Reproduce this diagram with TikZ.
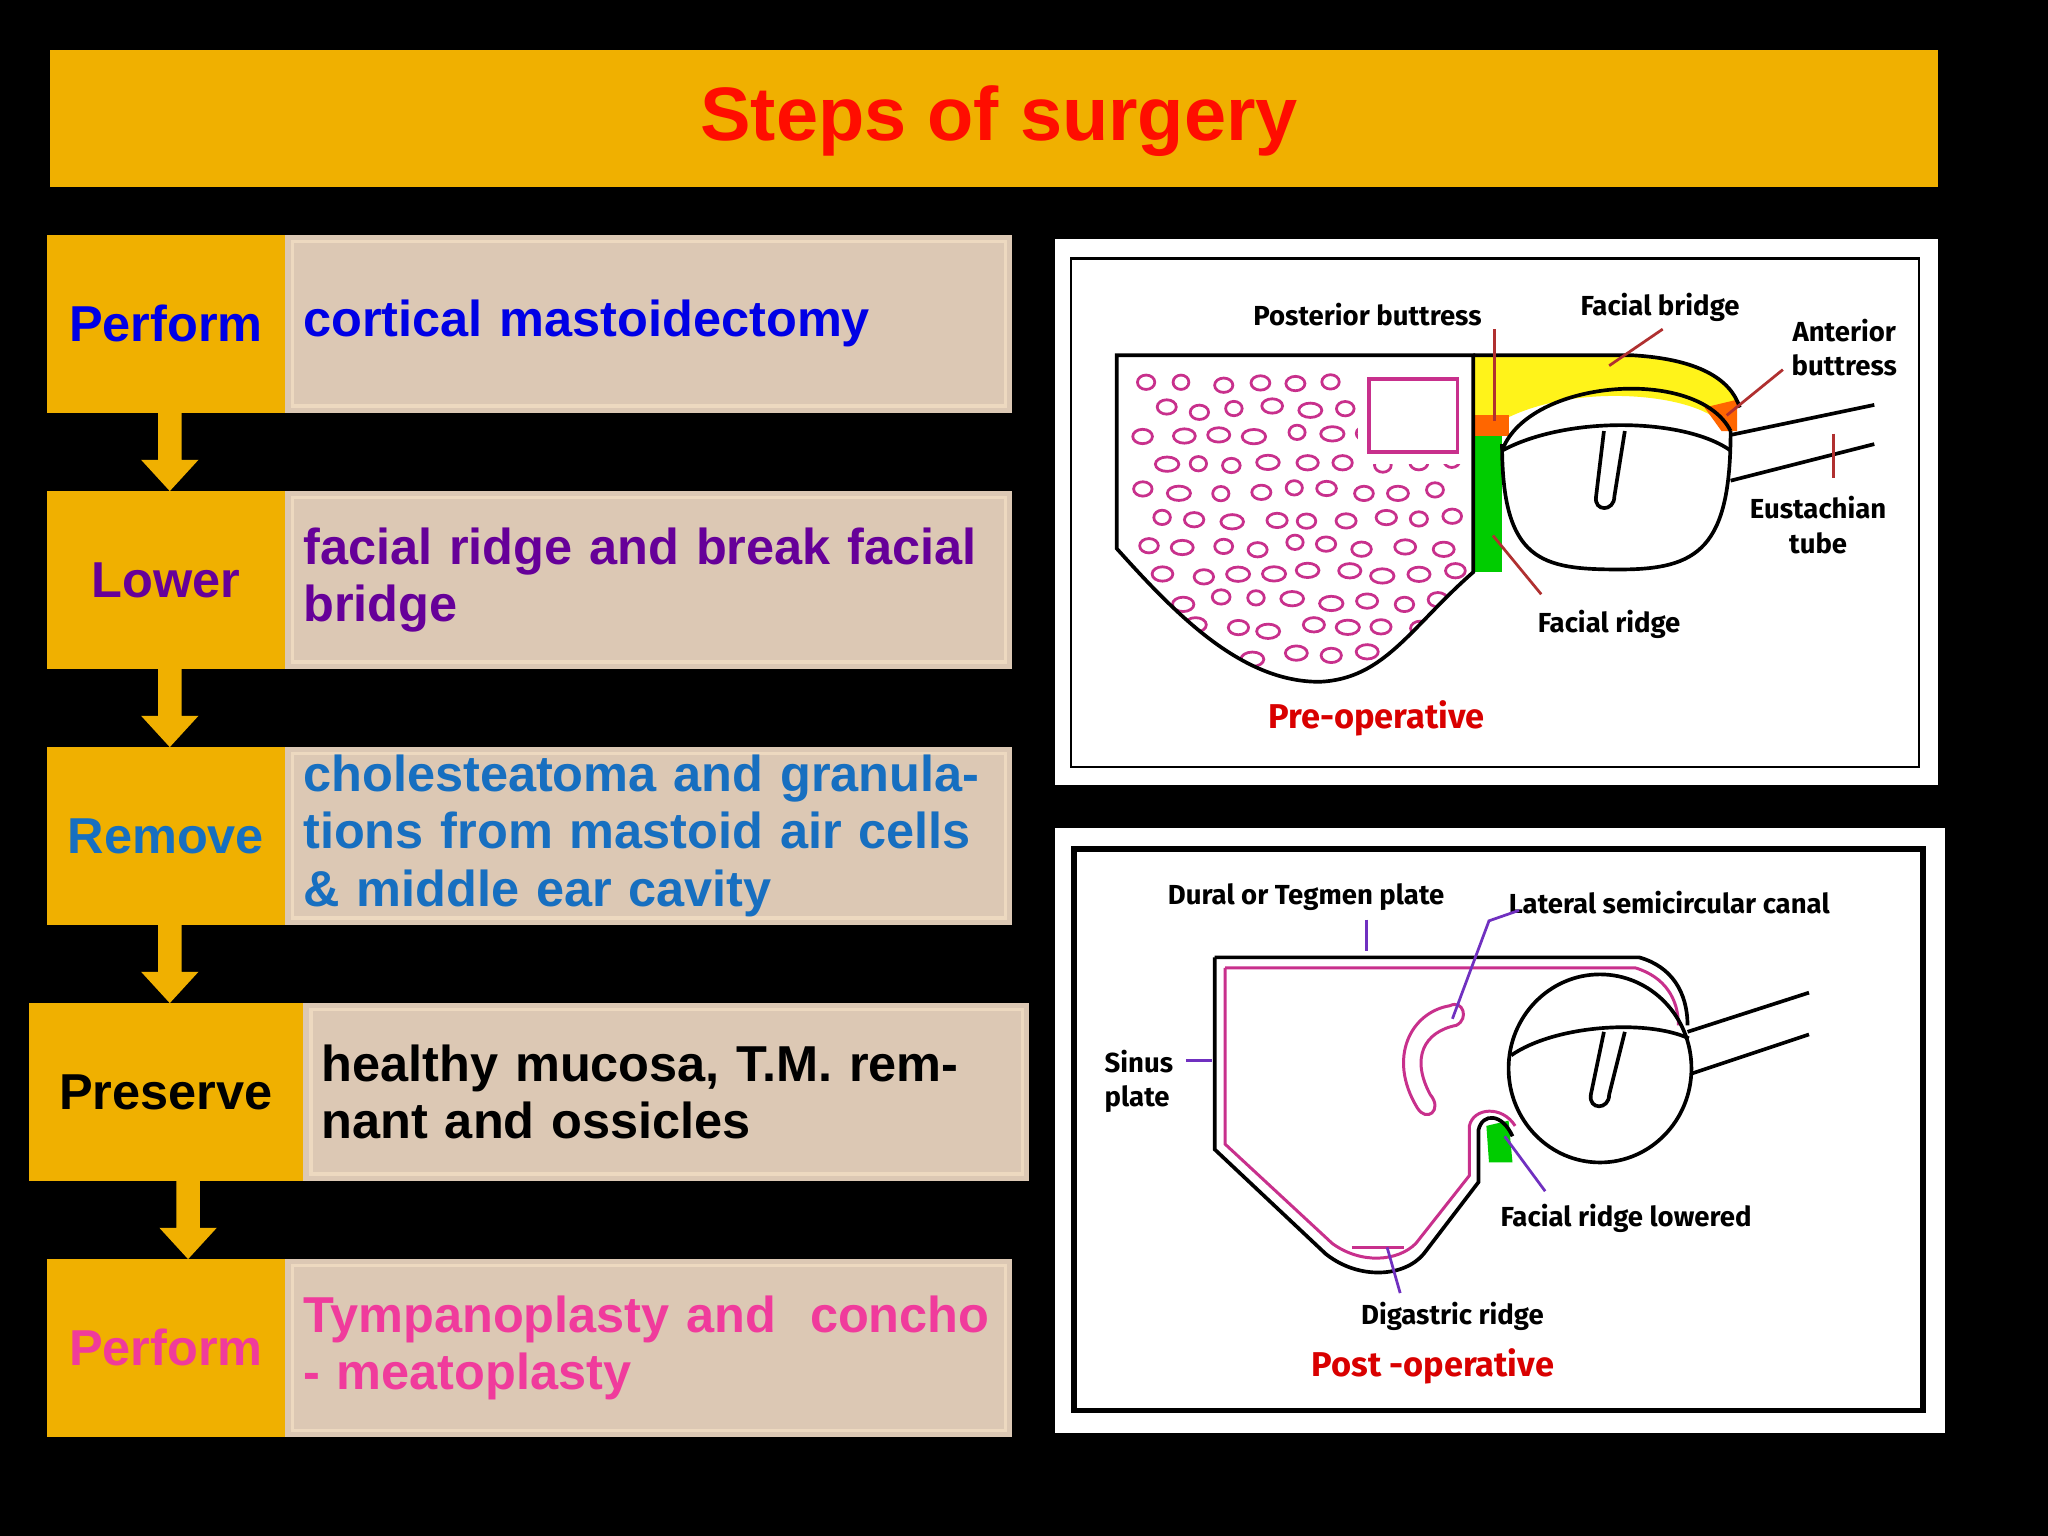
\documentclass[tikz,border=0pt]{standalone}
\usepackage{fontspec}
\setmainfont{Liberation Sans}
\newfontfamily\lbl{Fira Sans}
\definecolor{orangeA}{HTML}{F0B000}
\definecolor{beigeA}{HTML}{DCC8B4}
\definecolor{beigeB}{HTML}{EDD9C0}
\definecolor{pinkC}{HTML}{C8308C}
\definecolor{lead}{HTML}{B03030}
\definecolor{leadp}{HTML}{7030C0}
\begin{document}
\begin{tikzpicture}[x=0.02cm,y=-0.02cm,
 st/.style={font=\fontsize{22}{26}\selectfont\bfseries,anchor=center},
 tx/.style={font=\fontsize{22}{25}\selectfont\bfseries,anchor=west,align=left,text width=10.6cm},
 lab/.style={font=\lbl\fontsize{12}{15}\selectfont\bfseries,align=center,inner sep=1pt},
 cell/.style={draw=pinkC,line width=1.2pt},
 ol/.style={draw=black,line width=1.6pt},
 ld/.style={draw=lead,line width=1.2pt},
 lp/.style={draw=leadp,line width=1.2pt}]
\fill[black] (0,0) rectangle (1568,1176);
% title
\fill[orangeA] (38,38) rectangle (1484,143);
\node[font=\fontsize{33}{38}\selectfont\bfseries,text=red!90!orange] (title) at (765,93) {Steps of surgery};
% rows
\foreach \n/\y/\lab/\col/\txt/\xa/\xb/\xc in {
 a/180/Perform/{blue!90!black}/{cortical mastoidectomy}/36/218/775,
 b/376/Lower/{violet!80!blue}/{facial ridge and break facial bridge}/36/218/775,
 c/572/Remove/{cyan!50!blue}/{cholesteatoma and granulations from mastoid air cells \& middle ear cavity}/36/218/775,
 d/768/Preserve/black/{healthy mucosa, T.M. remnant and ossicles}/22/232/788,
 e/964/Perform/{magenta!70!pink}/{Tympanoplasty and\ \ concho - meatoplasty}/36/218/775}{
 \fill[orangeA] (\xa,\y) rectangle (\xb+14,\y+136);
 \fill[beigeA] (\xb,\y) rectangle (\xc,\y+136);
 \draw[beigeB,line width=1.5pt] (\xb+6,\y+5) rectangle (\xc-5,\y+131);
 \node[st,text=\col] (L\n) at ({(\xa+\xb)/2},\y+68) {\lab};
 \node[tx,text=\col] (T\n) at (\xb+8,\y+68) {\txt};
}
\foreach \y/\x in {316/130,512/130,708/130,904/144}{
 \fill[orangeA] (\x-9,\y) -- (\x+9,\y) -- (\x+9,\y+36) -- (\x+22,\y+36) -- (\x,\y+60) -- (\x-22,\y+36) -- (\x-9,\y+36) -- cycle;
}
% ===== pre-op panel
\fill[white] (808,183) rectangle (1484,601);
\draw[black,line width=1pt] (820,198) rectangle (1469,587);
\fill[yellow!90!white] (1128,272) -- (1250,272) .. controls (1300,275) and (1325,290) .. (1332,312) -- (1310,318) .. controls (1280,300) and (1200,295) .. (1150,322) -- (1128,322) -- cycle;
\fill[orange!80!red] (1128,318) rectangle (1155,334);
\fill[orange!80!red] (1305,312) -- (1330,306) -- (1330,330) -- (1318,330) -- cycle;
\fill[green!80!black] (1128,334) rectangle (1150,438);
\begin{scope}
\clip (855,272) -- (1128,272) -- (1128,438) .. controls (1080,480) and (1060,520) .. (1010,522) .. controls (950,522) and (900,470) .. (855,420) -- cycle;
\pgfmathsetseed{7}
\foreach \r in {0,...,10}{
 \foreach \c in {0,...,8}{
  \pgfmathsetmacro{\cx}{878+\c*28+mod(\r,2)*12+rand*4}
  \pgfmathsetmacro{\cy}{292+\r*21+rand*3}
  \pgfmathsetmacro{\rx}{0.12+0.06*abs(rand)}
  \draw[cell] (\cx,\cy) ellipse ({\rx cm} and 0.11cm);
 }}
\fill[white] (1040,282) rectangle (1128,355);
\end{scope}
\draw[draw=pinkC,line width=1.6pt] (1048,290) rectangle (1116,346);
\draw[ol] (855,272) -- (1128,272) -- (1128,438) .. controls (1080,480) and (1060,520) .. (1010,522) .. controls (950,522) and (900,470) .. (855,420) -- cycle;
\draw[ol] (1128,272) -- (1250,272) .. controls (1300,275) and (1325,290) .. (1332,312);
% ear
\draw[ol] (1150,340) .. controls (1150,430) and (1180,436) .. (1240,436) .. controls (1300,436) and (1325,420) .. (1325,330);
\draw[ol] (1150,345) .. controls (1170,290) and (1300,280) .. (1325,330);
\draw[ol] (1150,345) .. controls (1200,318) and (1290,320) .. (1325,345);
\draw[ol] (1228,330) -- (1222,380) .. controls (1220,392) and (1236,392) .. (1236,380) -- (1244,330);
\draw[ol] (1325,333) -- (1435,310);
\draw[ol] (1325,368) -- (1435,340);
% labels pre
\node[lab] (pb) at (1047,241) {Posterior buttress};
\node[lab] (fb) at (1271,235) {Facial bridge};
\node[lab] (ab) at (1412,266) {Anterior\\buttress};
\node[lab] (et) at (1392,402) {Eustachian\\tube};
\node[lab] (fr) at (1232,478) {Facial ridge};
\node[lab,text=red!85!black,font=\lbl\fontsize{15}{18}\selectfont\bfseries] (pre) at (1054,550) {Pre-operative};
\draw[ld] (1144,252) -- (1144,322);
\draw[ld] (1273,252) -- (1232,280);
\draw[ld] (1365,283) -- (1322,318);
\draw[ld] (1404,332) -- (1404,366);
\draw[ld] (1180,455) -- (1143,410);
% ===== post-op panel
\fill[white] (808,634) rectangle (1489,1097);
\draw[black,line width=2.5pt] (822,650) rectangle (1472,1080);
\fill[green!80!black] (1138,862) -- (1155,858) -- (1158,890) -- (1140,890) -- cycle;
\draw[ol] (930,733) -- (1255,733) .. controls (1280,740) and (1292,760) .. (1292,785);
\draw[pinkC,line width=1.3pt] (938,741) -- (1252,741) .. controls (1275,748) and (1285,765) .. (1285,785);
\draw[ol] (930,733) -- (930,880) -- (1015,960) .. controls (1040,980) and (1075,978) .. (1090,960) -- (1132,905) -- (1132,865) .. controls (1135,852) and (1150,852) .. (1158,870);
\draw[pinkC,line width=1.3pt] (938,741) -- (938,876) -- (1020,952) .. controls (1042,968) and (1070,966) .. (1084,952) -- (1125,900) -- (1125,862) .. controls (1128,848) and (1150,846) .. (1160,862);
\draw[pinkC,line width=1.3pt] (1035,955) -- (1075,955);
% lateral canal
\draw[pinkC,line width=1.3pt] (1110,770) .. controls (1080,775) and (1062,810) .. (1085,848) .. controls (1092,860) and (1105,850) .. (1095,838) .. controls (1080,810) and (1090,790) .. (1115,785) .. controls (1125,780) and (1120,765) .. (1110,770);
% ear post
\draw[ol] (1225,818) ellipse (70 and 72);
\draw[ol] (1157,808) .. controls (1190,785) and (1260,780) .. (1293,795);
\draw[ol] (1228,790) -- (1218,838) .. controls (1216,850) and (1232,850) .. (1232,838) -- (1244,790);
\draw[ol] (1292,790) -- (1385,760);
\draw[ol] (1295,822) -- (1385,792);
% labels post
\node[lab] (dt) at (1000,687) {Dural or Tegmen plate};
\node[lab] (lsc) at (1278,691) {Lateral semicircular canal};
\node[lab,align=left] (sp) at (872,828) {Sinus\\plate};
\node[lab] (frl) at (1245,933) {Facial ridge lowered};
\node[lab] (dr) at (1112,1008) {Digastric ridge};
\node[lab,text=red!85!black,font=\lbl\fontsize{15}{18}\selectfont\bfseries] (post) at (1097,1046) {Post -operative};
\draw[lp] (1046,704) -- (1046,728);
\draw[lp] (1163,697) -- (1140,705) -- (1112,780);
\draw[lp] (908,812) -- (928,812);
\draw[lp] (1183,912) -- (1152,870);
\draw[lp] (1072,990) -- (1062,955);
\end{tikzpicture}
\end{document}
